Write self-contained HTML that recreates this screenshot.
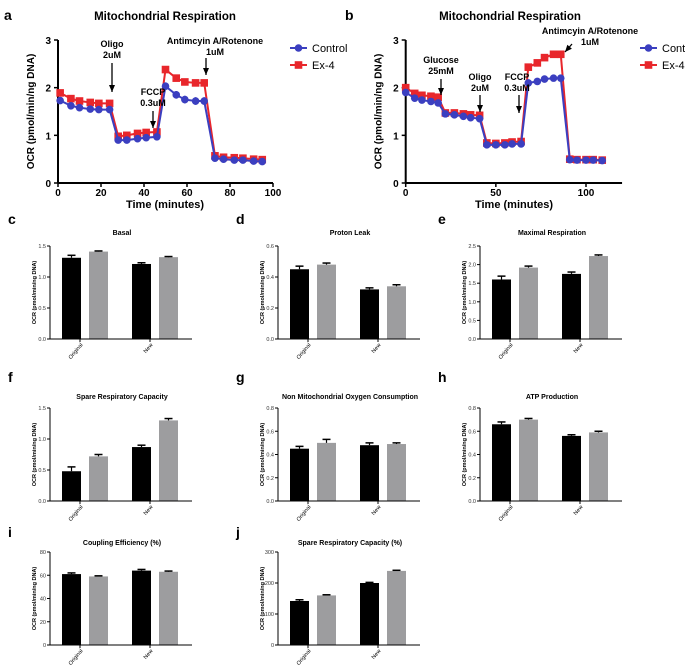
<!DOCTYPE html>
<html><head><meta charset="utf-8"><style>
body{margin:0;background:#fff;}
svg{display:block;font-family:"Liberation Sans",sans-serif;}
</style></head><body>
<svg id="fig" width="685" height="668" viewBox="0 0 685 668" xmlns="http://www.w3.org/2000/svg"></svg>
<script>
// ---- Panel a data ----
const aTimes=[1,6,10,15,19,24,28,32,37,41,46,50,55,59,64,68,73,77,82,86,91,95];
const aControl=[1.73,1.62,1.58,1.55,1.54,1.54,0.9,0.9,0.93,0.95,0.97,2.03,1.85,1.75,1.72,1.72,0.52,0.5,0.48,0.48,0.46,0.45];
const aControlErr=[0.05,0.04,0.04,0.04,0.04,0.04,0.03,0.03,0.03,0.03,0.03,0.08,0.08,0.08,0.08,0.08,0.03,0.02,0.02,0.02,0.02,0.02];
const aEx4=[1.89,1.77,1.72,1.69,1.67,1.67,0.98,1.0,1.04,1.06,1.07,2.38,2.2,2.12,2.1,2.1,0.57,0.54,0.53,0.52,0.5,0.49];
const aXTicks=[0,20,40,60,80,100];
const aYTicks=[0,1,2,3];
// ---- Panel b data ----
const bTimes=[0,5,9,14,18,22,27,32,36,41,45,50,55,59,64,68,73,77,82,86,91,95,100,104,109];
const bControl=[1.9,1.78,1.74,1.71,1.68,1.45,1.43,1.4,1.37,1.35,0.8,0.8,0.8,0.82,0.82,2.1,2.13,2.18,2.2,2.2,0.49,0.48,0.48,0.48,0.47];
const bEx4=[2.0,1.88,1.84,1.82,1.8,1.47,1.47,1.45,1.43,1.42,0.84,0.83,0.84,0.86,0.87,2.43,2.52,2.63,2.7,2.7,0.5,0.49,0.49,0.49,0.48];
const bXTicks=[0,50,100];
const bYTicks=[0,1,2,3];
// ---- Bar panels ----
const barCategories=["Original","New"];
const cVals=[1.31,1.41,1.21,1.32]; const cErr=[0.04,0.01,0.02,0.01]; const cTicks=[0,0.5,1.0,1.5];
const dVals=[0.45,0.48,0.32,0.34]; const dErr=[0.02,0.01,0.01,0.01]; const dTicks=[0,0.2,0.4,0.6];
const eVals=[1.6,1.92,1.75,2.23]; const eErr=[0.09,0.04,0.05,0.03]; const eTicks=[0,0.5,1.0,1.5,2.0,2.5];
const fVals=[0.48,0.72,0.87,1.3]; const fErr=[0.07,0.03,0.03,0.03]; const fTicks=[0,0.5,1.0,1.5];
const gVals=[0.45,0.5,0.48,0.49]; const gErr=[0.02,0.03,0.02,0.01]; const gTicks=[0,0.2,0.4,0.6,0.8];
const hVals=[0.66,0.7,0.56,0.59]; const hErr=[0.02,0.01,0.01,0.01]; const hTicks=[0,0.2,0.4,0.6,0.8];
const iVals=[61,59,64,63]; const iErr=[1,0.5,1,0.6]; const iTicks=[0,20,40,60,80];
const jVals=[142,160,200,239]; const jErr=[4,2,2,2]; const jTicks=[0,100,200,300];

const NS="http://www.w3.org/2000/svg";
const svg=document.getElementById('fig');
function mk(tag,attrs,parent){const e=document.createElementNS(NS,tag);for(const k in attrs)e.setAttribute(k,attrs[k]);(parent||svg).appendChild(e);return e;}
function txt(s,x,y,size,opts,name){const e=mk('text',Object.assign({x:x,y:y,'font-size':size},opts||{}));e.textContent=s;


return e;}

function linePanel(id,ox,xmax,x0px,x1px,times,ctrl,ex,xticks,yticks,legendX,legendCtl,ctrlErr,titleX){
  const g=mk('g',{});
  
  
  const xs=v=>x0px+(v)*(x1px-x0px)/xmax;
  const ys=v=>183-v*(183-40)/3;
  const axEnd=xs(xticks[xticks.length-1]+(id==='b'?20:0));
  mk('line',{x1:x0px,y1:40,x2:x0px,y2:183,stroke:'#000','stroke-width':2},g);
  mk('line',{x1:x0px,y1:183,x2:axEnd,y2:183,stroke:'#000','stroke-width':2},g);
  yticks.forEach(t=>{mk('line',{x1:x0px-4,y1:ys(t),x2:x0px,y2:ys(t),stroke:'#000','stroke-width':1.5},g);
    txt(String(t),x0px-7,ys(t)+4,10,{'text-anchor':'end','font-weight':'bold'},'y-tick-label');});
  xticks.forEach(t=>{mk('line',{x1:xs(t),y1:183,x2:xs(t),y2:187,stroke:'#000','stroke-width':1.5},g);
    txt(String(t),xs(t),196,10,{'text-anchor':'middle','font-weight':'bold'},'x-tick-label');});
  function series(vals,color,shape,name,err){
    const p=mk('polyline',{points:times.map((t,i)=>xs(t)+','+ys(vals[i])).join(' '),fill:'none',stroke:color,'stroke-width':2},g);
    
    
    times.forEach((t,i)=>{
      if(err){mk('line',{x1:xs(t),y1:ys(vals[i]+err[i]),x2:xs(t),y2:ys(vals[i]-err[i]),stroke:color,'stroke-width':1.5},g);}
      let m;
      if(shape==='c')m=mk('circle',{cx:xs(t),cy:ys(vals[i]),r:3.8,fill:color},g);
      else m=mk('rect',{x:xs(t)-3.8,y:ys(vals[i])-3.8,width:7.6,height:7.6,fill:color},g);
      
      
    });
  }
  series(ex,'#e8262b','s','ex4');
  series(ctrl,'#3b3fc0','c','control',ctrlErr);
  const lg=mk('g',{},g);
  
  
  mk('line',{x1:legendX,y1:48,x2:legendX+17,y2:48,stroke:'#3b3fc0','stroke-width':2},lg);
  mk('circle',{cx:legendX+8.5,cy:48,r:3.8,fill:'#3b3fc0'},lg);
  txt(legendCtl,legendX+22,52,11,{},'legend-control');
  mk('line',{x1:legendX,y1:65,x2:legendX+17,y2:65,stroke:'#e8262b','stroke-width':2},lg);
  mk('rect',{x:legendX+4.7,y:61.2,width:7.6,height:7.6,fill:'#e8262b'},lg);
  txt('Ex-4',legendX+22,69,11,{},'legend-ex4');
  const yc=(40+183)/2;
  txt('OCR (pmol/min/ng DNA)',0,0,10,{'font-weight':'bold','text-anchor':'middle',transform:'translate('+(x0px-24)+','+yc+') rotate(-90)'},'y-axis-title');
  txt('Time (minutes)',titleX,208,11,{'font-weight':'bold','text-anchor':'middle'},'x-axis-title');
  return {g,xs,ys};
}
function arrow(x1,y1,x2,y2){
  const a=mk('line',{x1:x1,y1:y1,x2:x2,y2:y2,stroke:'#000','stroke-width':1.3});
  
  
  const ang=Math.atan2(y2-y1,x2-x1),L=7,W=3;
  const bx=x2-L*Math.cos(ang),by=y2-L*Math.sin(ang);
  mk('polygon',{points:`${x2},${y2} ${bx+W*Math.sin(ang)},${by-W*Math.cos(ang)} ${bx-W*Math.sin(ang)},${by+W*Math.cos(ang)}`,fill:'#000'});
}
function note(lines,x,y){lines.forEach((s,i)=>txt(s,x,y+i*11,9,{'text-anchor':'middle','font-weight':'bold'},'annotation-label'));}

// Panel a
txt('a',4,20,14,{'font-weight':'bold'},'panel-label-a');
txt('Mitochondrial  Respiration',165,20,11.5,{'font-weight':'bold','text-anchor':'middle'},'chart-title-a');
linePanel('a',0,100,58,273,aTimes,aControl,aEx4,aXTicks,aYTicks,290,'Control',aControlErr,165);
note(['Oligo','2uM'],112,47); arrow(112,63,112,92);
note(['FCCP','0.3uM'],153,95); arrow(153,111,153,128);
note(['Antimcyin A/Rotenone','1uM'],215,44); arrow(206,58,206,75);

// Panel b
txt('b',345,20,14,{'font-weight':'bold'},'panel-label-b');
txt('Mitochondrial  Respiration',510,20,11.5,{'font-weight':'bold','text-anchor':'middle'},'chart-title-b');
linePanel('b',342,100,405.7,586,bTimes,bControl,bEx4,bXTicks,bYTicks,640,'Contro',null,514);
note(['Glucose','25mM'],441,63); arrow(441,79,441,95);
note(['Oligo','2uM'],480,80); arrow(480,95,480,112);
note(['FCCP','0.3uM'],517,80); arrow(519,95,519,113);
note(['Antimcyin A/Rotenone','1uM'],590,34); arrow(572,44,565,52);

// Bar panels
function barPanel(letter,title,axX,zeroY,labelY,titleY,vals,errs,ticks){
  const g=mk('g',{});
  
  
  const H=93, top=zeroY-H, max=ticks[ticks.length-1];
  const ys=v=>zeroY-v*H/max;
  txt(letter,axX-42,labelY,14,{'font-weight':'bold'},'panel-label-'+letter);
  txt(title,axX+72,titleY,7,{'font-weight':'bold','text-anchor':'middle'},'chart-title-'+letter);
  const offs=[12,39,82,109];
  vals.forEach((v,i)=>{
    const x=axX+offs[i];
    const b=mk('rect',{x:x,y:ys(v),width:19,height:zeroY-ys(v),fill:i%2?'#9d9d9f':'#000'},g);
    
    
    const cx=x+9.5;
    mk('line',{x1:cx,y1:ys(v),x2:cx,y2:ys(v+errs[i]),stroke:'#000','stroke-width':1.2},g);
    mk('line',{x1:cx-4,y1:ys(v+errs[i]),x2:cx+4,y2:ys(v+errs[i]),stroke:'#000','stroke-width':1.5},g);
  });
  mk('line',{x1:axX,y1:top,x2:axX,y2:zeroY,stroke:'#000','stroke-width':1},g);
  mk('line',{x1:axX,y1:zeroY,x2:axX+142,y2:zeroY,stroke:'#000','stroke-width':1},g);
  ticks.forEach(t=>{mk('line',{x1:axX-3,y1:ys(t),x2:axX,y2:ys(t),stroke:'#000','stroke-width':1},g);
    const lab=(max<=2.5)?t.toFixed(1):String(t);
    txt(lab,axX-4,ys(t)+2,5.5,{'text-anchor':'end','fill':'#333'},'y-tick-label');});
  [[axX+30,'Original'],[axX+100,'New']].forEach(([x,s])=>{
    mk('line',{x1:x,y1:zeroY,x2:x,y2:zeroY+3,stroke:'#000','stroke-width':1},g);
    txt(s,0,0,5.5,{'text-anchor':'end',transform:`translate(${x+3},${zeroY+6}) rotate(-50)`},'x-tick-label');});
  txt('OCR (pmol/min/ng DNA)',0,0,5.5,{'font-weight':'bold','text-anchor':'middle',transform:`translate(${axX-14},${zeroY-H/2}) rotate(-90)`},'y-axis-title');
}
barPanel('c','Basal',50,339,224,235,cVals,cErr,cTicks);
barPanel('d','Proton Leak',278,339,224,235,dVals,dErr,dTicks);
barPanel('e','Maximal Respiration',480,339,224,235,eVals,eErr,eTicks);
barPanel('f','Spare Respiratory Capacity',50,501,382,399,fVals,fErr,fTicks);
barPanel('g','Non Mitochondrial Oxygen Consumption',278,501,382,399,gVals,gErr,gTicks);
barPanel('h','ATP Production',480,501,382,399,hVals,hErr,hTicks);
barPanel('i','Coupling Efficiency (%)',50,645,537,545,iVals,iErr,iTicks);
barPanel('j','Spare Respiratory Capacity (%)',278,645,537,545,jVals,jErr,jTicks);
</script>
</body></html>
